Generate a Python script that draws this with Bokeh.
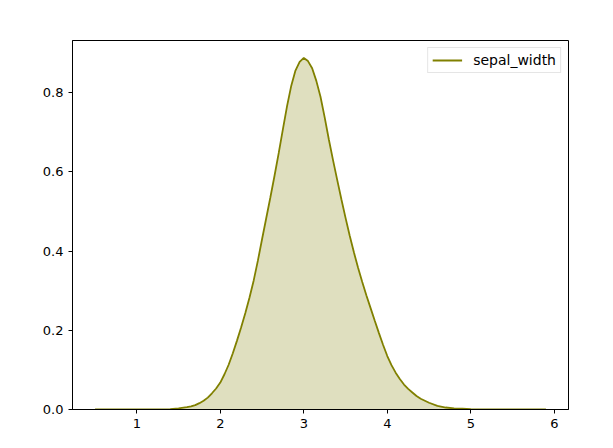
from bokeh.plotting import figure
from bokeh.models import ColumnDataSource, FixedTicker, PrintfTickFormatter, Range1d, Legend, LegendItem
from bokeh.embed import file_html
from bokeh.resources import INLINE

# KDE of sepal_width
xs = [0.5, 0.6, 0.7, 0.8, 0.9, 1.0, 1.1, 1.2, 1.3, 1.4, 1.5, 1.6, 1.65,
      1.70, 1.75, 1.80, 1.85, 1.90, 1.95, 2.00, 2.05, 2.10, 2.15, 2.20, 2.25,
      2.30, 2.35, 2.40, 2.45, 2.50, 2.55, 2.60, 2.65, 2.70, 2.75, 2.80, 2.85,
      2.90, 2.95, 3.00, 3.05, 3.10, 3.15, 3.20, 3.25, 3.30, 3.35, 3.40, 3.45,
      3.50, 3.55, 3.60, 3.65, 3.70, 3.75, 3.80, 3.85, 3.90, 3.95, 4.00, 4.05,
      4.10, 4.15, 4.20, 4.25, 4.30, 4.35, 4.40, 4.5, 4.6, 4.7, 4.8, 4.9,
      5.0, 5.1, 5.2, 5.3, 5.4, 5.5, 5.6, 5.7, 5.8, 5.9]
density = [0.0, 0.0, 0.0, 0.0, 0.0, 0.0, 0.0, 0.0, 0.0005, 0.001, 0.003, 0.006, 0.008,
           0.011, 0.016, 0.022, 0.030, 0.041, 0.053, 0.068, 0.089, 0.113, 0.142, 0.174, 0.208,
           0.244, 0.283, 0.326, 0.376, 0.430, 0.483, 0.536, 0.591, 0.648, 0.708, 0.767, 0.818,
           0.856, 0.878, 0.888, 0.880, 0.862, 0.830, 0.790, 0.738, 0.682, 0.630, 0.580, 0.531,
           0.484, 0.439, 0.397, 0.358, 0.322, 0.288, 0.256, 0.224, 0.193, 0.163, 0.135, 0.112,
           0.093, 0.077, 0.063, 0.052, 0.043, 0.034, 0.027, 0.017, 0.009, 0.005, 0.003, 0.002,
           0.001, 0.0005, 0.0, 0.0, 0.0, 0.0, 0.0, 0.0, 0.0, 0.0]
series_name = "sepal_width"
x_ticks = [1, 2, 3, 4, 5, 6]
y_ticks = [0.0, 0.2, 0.4, 0.6, 0.8]

src = ColumnDataSource(dict(x=xs, y=density, y0=[0.0] * len(xs)))

p = figure(frame_width=496, frame_height=369, output_backend="svg", toolbar_location=None,
           x_range=Range1d(0.23, 6.17), y_range=Range1d(0.0, 0.932),
           min_border_left=72, min_border_top=40, min_border_right=36, min_border_bottom=31)
p.background_fill_color = "white"
p.border_fill_color = "white"
p.outline_line_color = "black"
p.outline_line_width = 1
p.grid.visible = False

p.varea(x="x", y1="y0", y2="y", source=src, fill_color="olive", fill_alpha=0.25)
r = p.line(x="x", y="y", source=src, line_color="olive", line_width=1.8)

for ax in (p.xaxis[0], p.yaxis[0]):
    ax.major_label_text_font = "DejaVu Sans"
    ax.major_label_text_font_size = "13px"
    ax.major_label_text_color = "black"
    ax.axis_line_color = "black"
    ax.major_tick_line_color = "black"
    ax.major_tick_out = 4
    ax.major_tick_in = 0
    ax.minor_tick_line_color = None
p.xaxis.ticker = FixedTicker(ticks=x_ticks)
p.yaxis.ticker = FixedTicker(ticks=y_ticks)
p.yaxis.formatter = PrintfTickFormatter(format="%.1f")

legend = Legend(items=[LegendItem(label=series_name, renderers=[r])], location="top_right")
legend.label_text_font = "DejaVu Sans"
legend.label_text_font_size = "14px"
legend.label_text_color = "black"
legend.border_line_color = "#cccccc"
legend.margin = 7
legend.padding = 4
legend.glyph_width = 30
legend.glyph_height = 16
legend.label_height = 16
legend.label_standoff = 11
p.add_layout(legend)

open("out.html", "w").write(file_html(p, INLINE))
